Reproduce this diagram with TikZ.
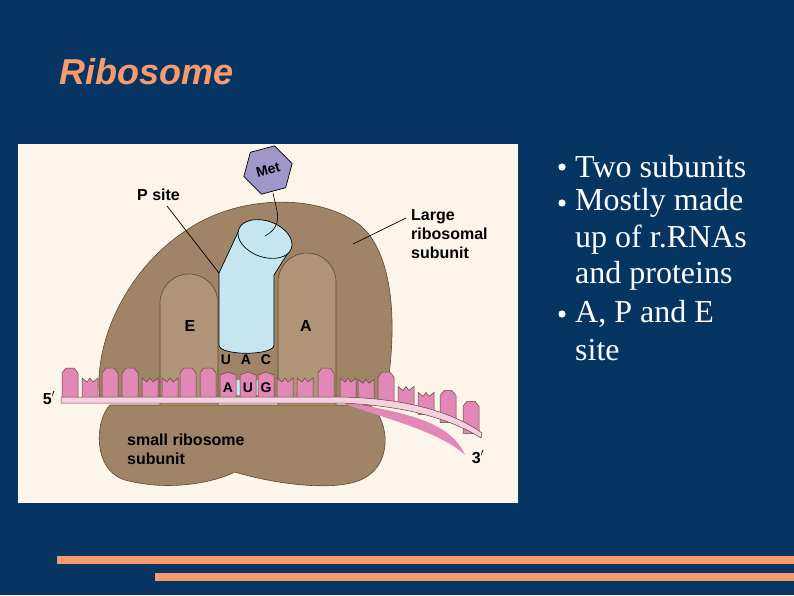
\documentclass[tikz,border=0pt]{standalone}
\usepackage{fontspec}
\setmainfont{Liberation Serif}
\newfontfamily\arial{Liberation Sans}
\usetikzlibrary{shapes.geometric}
\definecolor{bg}{HTML}{063463}
\definecolor{cream}{HTML}{FDF5EA}
\definecolor{brn}{HTML}{A08468}
\definecolor{brnd}{HTML}{5E4630}
\definecolor{brnl}{HTML}{B09478}
\definecolor{tb}{HTML}{C5E6F0}
\definecolor{pk}{HTML}{E288B6}
\definecolor{pkl}{HTML}{F7D0E2}
\definecolor{met}{HTML}{9E97C8}
\definecolor{org}{HTML}{F79A6C}
\tikzset{lab/.style={font=\arial\bfseries\fontsize{16}{19}\selectfont,text=black,align=left,inner sep=0},
 bul/.style={font=\fontsize{32}{36}\selectfont,text=white,anchor=west,inner sep=0},
 tooth/.style={fill=pk,draw=brnd,line width=0.5pt}}
\begin{document}
\begin{tikzpicture}[x=1pt,y=-1pt]
\useasboundingbox (0,0) rectangle (794,595);
\fill[bg] (0,0) rectangle (794,595);
\node[font=\arial\bfseries\itshape\fontsize{36}{40}\selectfont,text=org,anchor=west,inner sep=0] (title) at (59,72) {Ribosome};
\fill[org] (57,556) rectangle (794,564);
\fill[org] (155,573) rectangle (794,581);
\fill[cream] (18,144) rectangle (518,503);
% large subunit
\draw[fill=brn,draw=brnd,line width=0.6pt] (100,400) .. controls (92,340) and (130,260) .. (200,222)
 .. controls (250,195) and (320,195) .. (360,225) .. controls (395,255) and (398,330) .. (385,400) -- cycle;
% small subunit
\draw[fill=brn,draw=brnd,line width=0.6pt] (110,405) .. controls (95,420) and (92,470) .. (125,480)
 .. controls (170,492) and (215,482) .. (235,472) .. controls (260,480) and (320,492) .. (355,482)
 .. controls (395,470) and (390,420) .. (370,405) -- cycle;
% pockets
\draw[fill=brnl,draw=brnd,line width=0.6pt] (160,405) -- (160,303) arc[start angle=180,end angle=360,radius=29] -- (218,405);
\draw[fill=brnl,draw=brnd,line width=0.6pt] (278,405) -- (278,282) arc[start angle=180,end angle=360,radius=29] -- (336,405);
\node[lab] (E) at (190,326) {E};
\node[lab] (A) at (306,326) {A};
% tRNA
\fill[tb] (234,380) rectangle (258,395);
\draw[fill=tb,draw=black,line width=0.7pt] (219,273) -- (219,345) .. controls (219,356) and (274,356) .. (274,345)
 -- (274,275) -- (291,248) -- (240,228) -- cycle;
\draw[fill=tb,draw=black,line width=0.7pt,rotate around={-20:(265,239)}] (265,239) ellipse (28 and 18);
\node[lab,font=\arial\bfseries\fontsize{14}{16}\selectfont] (U1) at (226,360) {U};
\node[lab,font=\arial\bfseries\fontsize{14}{16}\selectfont] (A1) at (246,360) {A};
\node[lab,font=\arial\bfseries\fontsize{14}{16}\selectfont] (C1) at (266,360) {C};
% Met
\node[regular polygon,regular polygon sides=6,minimum size=50,fill=met,draw=black,line width=0.7pt,rotate=15,inner sep=0,font=\arial\bfseries\fontsize{14}{16}\selectfont] (met) at (268,170) {Met};
\coordinate (metbot) at (273,193);
\coordinate (tcap) at (265,236);
\draw[line width=0.6pt] (metbot) .. controls (276,210) and (285,225) .. (tcap);
% mRNA teeth
\foreach \x/\t in {70/1,90/0,110/1,130/1,150/0,170/0,188/1,208/1,228/2,248/2,266/2,285/0,305/0,326/1,348/0,366/0,386/1,406/0,426/0,448/1,471/1}{
 \pgfmathsetmacro{\b}{\x>340 ? 400+((\x-340)/140)^2*38 : 400}
 \ifnum\t=1
  \draw[tooth] (\x-8,\b) -- (\x-8,\b-27) -- (\x-4,\b-32) -- (\x+4,\b-32) -- (\x+8,\b-27) -- (\x+8,\b) -- cycle;
 \fi
 \ifnum\t=0
  \draw[tooth] (\x-8,\b) -- (\x-8,\b-22) -- (\x-3,\b-18) -- (\x,\b-22) -- (\x+3,\b-18) -- (\x+8,\b-22) -- (\x+8,\b) -- cycle;
 \fi
 \ifnum\t=2
  \draw[tooth] (\x-8,\b) -- (\x-8,\b-25) -- (\x,\b-28) -- (\x+8,\b-25) -- (\x+8,\b) -- cycle;
 \fi
}
\fill[pk] (345,402) .. controls (400,412) and (450,420) .. (465,455) .. controls (440,432) and (390,420) .. (345,404) -- cycle;
\draw[fill=pkl,draw=brnd,line width=0.5pt] (61,397) -- (340,397) .. controls (400,398) and (450,410) .. (482,433)
 -- (481,438) .. controls (450,418) and (400,405) .. (340,403) -- (61,403) -- cycle;
\node[lab,font=\arial\bfseries\fontsize{14}{16}\selectfont] (A2) at (228,388) {A};
\node[lab,font=\arial\bfseries\fontsize{14}{16}\selectfont] (U2) at (248,388) {U};
\node[lab,font=\arial\bfseries\fontsize{14}{16}\selectfont] (G2) at (266,388) {G};
\node[lab] (five) at (49,398) {5$'$};
\node[lab] (three) at (478,457) {3$'$};
% labels
\node[lab,anchor=west] (psite) at (137,195) {P site};
\coordinate (pend) at (219,273);
\draw[line width=0.7pt] (167,206) -- (pend);
\node[lab,anchor=west] (large) at (411,234) {Large\\ribosomal\\subunit};
\coordinate (lend) at (353,244);
\draw[line width=0.7pt] (406,218) -- (lend);
\node[lab,anchor=west] (small) at (127,449) {small ribosome\\subunit};
% bullets
\foreach \y in {167,203,314}{\fill[white] (562,\y) circle (3.6);}
\node[bul] (b1) at (575,167) {Two subunits};
\node[bul] (b2) at (575,203) {Mostly made};
\node[bul] (b3) at (575,240) {up of r.RNAs};
\node[bul] (b4) at (575,276) {and proteins};
\node[bul] (b5) at (575,314) {A, P and E};
\node[bul] (b6) at (575,350) {site};
\end{tikzpicture}
\end{document}
